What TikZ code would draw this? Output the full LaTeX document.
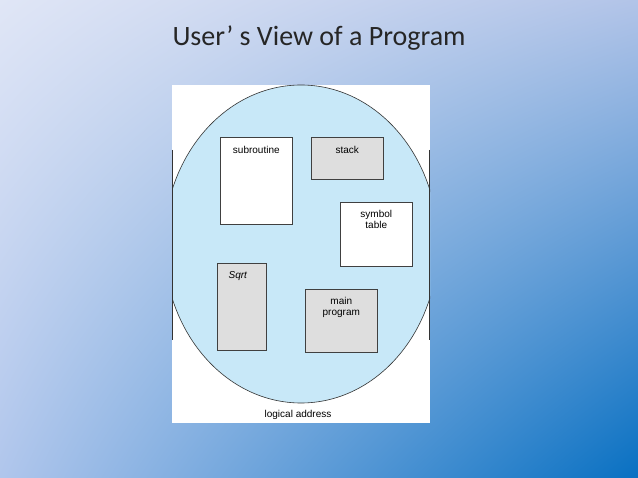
\documentclass[tikz,border=0pt]{standalone}
\usepackage{fontspec}
\usetikzlibrary{shadings}
\setmainfont{Liberation Sans}
\newfontfamily\titlefont{Carlito}
\definecolor{bgul}{RGB}{224,230,246}
\definecolor{bgur}{RGB}{178,196,232}
\definecolor{bgll}{RGB}{176,198,236}
\definecolor{bglr}{RGB}{8,112,194}
\definecolor{ellfill}{RGB}{200,232,248}
\begin{document}
\begin{tikzpicture}[x=1pt,y=-1pt,
  seg/.style={draw=black!75,line width=0.6pt,anchor=north west,inner sep=0pt},
  lbl/.style={font=\fontsize{10}{11}\selectfont,align=center,anchor=north,inner sep=0pt}]
\useasboundingbox (0,0) rectangle (638,478);
\shade[upper left=bgul,upper right=bgur,lower left=bgll,lower right=bglr]
  (0,0) rectangle (638,478);
\node[font=\titlefont\fontsize{28}{32}\selectfont,text=black!85] (title) at (319,38) {User’ s View of a Program};
\fill[white] (172,85) rectangle (430,423);
\begin{scope}
\clip (172,85) rectangle (430,423);
\filldraw[fill=ellfill,draw=black!80,line width=0.6pt] (301,244) ellipse [x radius=137, y radius=159];
\draw[black!80,line width=0.6pt] (172.3,150) -- (172.3,340) (429.7,150) -- (429.7,340);
\end{scope}
\node[seg,fill=white,minimum width=72pt,minimum height=87pt] (sub) at (220,137) {};
\node[lbl] at ([yshift=-9pt]sub.north) {subroutine};
\node[seg,fill=black!13,minimum width=72pt,minimum height=42pt] (stack) at (311,137) {};
\node[lbl] at ([yshift=-9pt]stack.north) {stack};
\node[seg,fill=white,minimum width=72pt,minimum height=64pt] (sym) at (340,202) {};
\node[lbl] at ([yshift=-8pt]sym.north) {symbol\\table};
\node[seg,fill=black!13,minimum width=49pt,minimum height=87pt] (sqrt) at (217,263) {};
\node[lbl,font=\itshape\fontsize{10}{11}\selectfont] at ([xshift=-4pt,yshift=-8pt]sqrt.north) {Sqrt};
\node[seg,fill=black!13,minimum width=72pt,minimum height=63pt] (main) at (305,289) {};
\node[lbl] at ([yshift=-8pt]main.north) {main\\program};
\node[font=\fontsize{10}{11}\selectfont] (la) at (298,415) {logical address};
\end{tikzpicture}
\end{document}
